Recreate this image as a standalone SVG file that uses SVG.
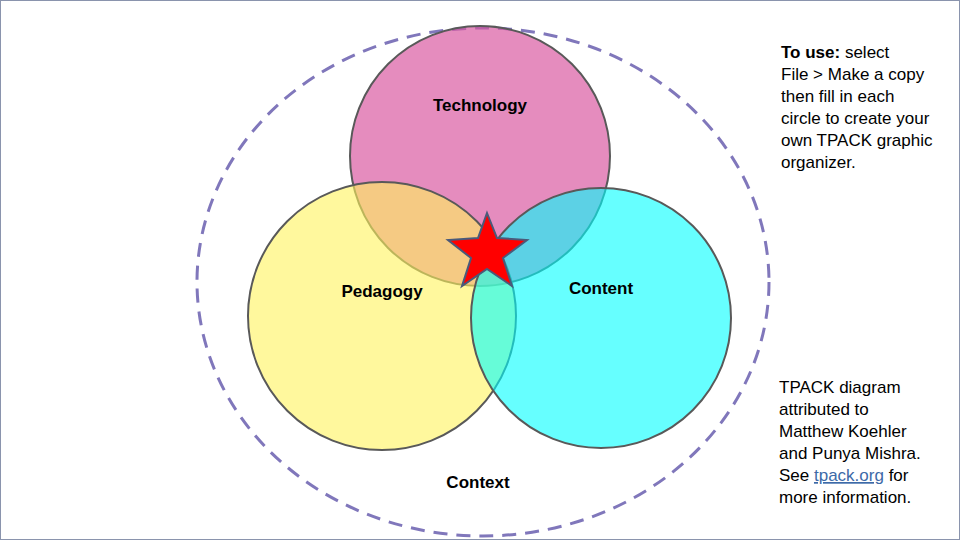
<svg xmlns="http://www.w3.org/2000/svg" width="960" height="540" viewBox="0 0 960 540">
<style>
.c{stroke:#595959;stroke-width:2}
.l{font-family:"Liberation Sans",Arial,sans-serif;font-size:17px;font-weight:bold;fill:#000;text-anchor:middle}
.t{font-family:"Liberation Sans",Arial,sans-serif;font-size:17px;fill:#000}
</style>
<rect x="0.5" y="0.5" width="959" height="539" fill="#fff" stroke="#8a94ad"/>
<ellipse cx="483" cy="282" rx="286" ry="254" fill="none" stroke="#8077bb" stroke-width="3" stroke-dasharray="14,9"/>
<g id="technology"><circle class="c" cx="480" cy="156" r="130" fill="#d9569f" fill-opacity="0.68"/></g>
<g id="pedagogy"><circle class="c" cx="382" cy="316" r="134" fill="#fff35c" fill-opacity="0.6"/></g>
<g id="content"><circle class="c" cx="601" cy="318" r="130" fill="#00ffff" fill-opacity="0.6"/></g>
<g id="star"><polygon points="487,213 497,238 527,240 503,258 512,286 487,269 462,286 471,258 448,240 478,238" fill="#ff0000" stroke="#4a5a7a" stroke-width="2"/></g>
<g id="labels">
<text class="l" x="480" y="111">Technology</text>
<text class="l" x="382" y="297">Pedagogy</text>
<text class="l" x="601" y="294">Content</text>
<text class="l" x="478" y="488">Context</text>
</g>
<g id="notes">
<text class="t" x="781" y="58"><tspan font-weight="bold">To use:</tspan> select</text>
<text class="t" x="781" y="80">File &gt; Make a copy</text>
<text class="t" x="781" y="102">then fill in each</text>
<text class="t" x="781" y="124">circle to create your</text>
<text class="t" x="781" y="146">own TPACK graphic</text>
<text class="t" x="781" y="168">organizer.</text>
<text class="t" x="779" y="393">TPACK diagram</text>
<text class="t" x="779" y="415">attributed to</text>
<text class="t" x="779" y="437">Matthew Koehler</text>
<text class="t" x="779" y="459">and Punya Mishra.</text>
<text class="t" x="779" y="481">See <tspan fill="#3d6aa8" text-decoration="underline">tpack.org</tspan> for</text>
<text class="t" x="779" y="503">more information.</text>
</g>
<g id="connectors"></g>
</svg>
